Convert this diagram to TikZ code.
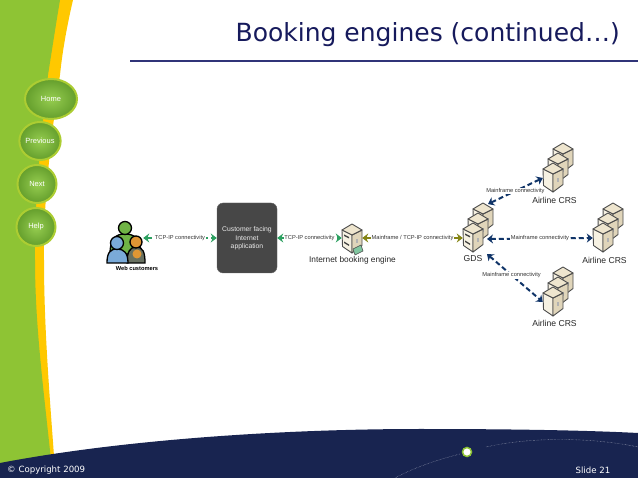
\documentclass[tikz,border=0pt]{standalone}
\usepackage{fontspec}
\setmainfont{Liberation Sans}
\newfontfamily\slidefont{DejaVu Sans}
\usetikzlibrary{shapes.geometric,arrows.meta}

\definecolor{leaf}{RGB}{142,196,52}
\definecolor{sun}{RGB}{255,200,0}
\definecolor{deepnavy}{RGB}{24,36,80}
\definecolor{titleblue}{RGB}{22,26,92}
\definecolor{ruleblue}{RGB}{48,52,120}
\definecolor{linkgreen}{RGB}{44,160,96}
\definecolor{linkolive}{RGB}{132,132,20}
\definecolor{linknavy}{RGB}{16,52,104}
\definecolor{srvlight}{RGB}{246,241,226}
\definecolor{srvmid}{RGB}{238,229,206}
\definecolor{srvdark}{RGB}{224,213,186}
\definecolor{btnring}{RGB}{172,205,50}
\definecolor{btnin}{RGB}{150,205,80}
\definecolor{btnout}{RGB}{100,158,44}
\definecolor{headblue}{RGB}{122,170,216}
\definecolor{headgreen}{RGB}{112,180,70}
\definecolor{headorange}{RGB}{224,150,52}
\definecolor{bodygrey}{RGB}{104,112,96}

\tikzset{
  pics/srvbox/.style={code={
    \draw[draw=black!70,line width=.9pt,fill=srvlight,line join=round]
      (-10,-9) -- (0,-4) -- (0,14) -- (-9.5,7.5) -- cycle;
    \draw[draw=black!70,line width=.9pt,fill=srvdark,line join=round]
      (0,-4) -- (10,-9) -- (10,6.5) -- (0,14) -- cycle;
    \draw[draw=black!70,line width=.9pt,fill=srvmid,line join=round]
      (-10,-9) -- (0,-15) -- (10,-9) -- (0,-4) -- cycle;
    \fill[black!30] (4,0) rectangle (5.5,4);
  }},
  pics/srvslots/.style={code={
    \fill[black!75] (-8,-4.5) -- (-3,-2) -- (-3,-.5) -- (-8,-3) -- cycle;
    \fill[black!75] (-8,2.5) -- (-3,5.5) -- (-3,7) -- (-8,4) -- cycle;
  }},
  pics/srvstack/.style={code={
    \pic at (10,-20) {srvbox};
    \pic at (5,-10) {srvbox};
    \pic at (0,0) {srvbox};
  }}
}

\begin{document}
\begin{tikzpicture}[x=1pt,y=-1pt]
    \tikzstyle{btn}=[ellipse,draw=btnring,line width=2pt,inner color=btnin,outer color=btnout,text=white,font=\fontsize{7.5}{9}\selectfont,inner sep=0pt]
    \tikzstyle{srv}=[minimum width=20pt,minimum height=30pt,inner sep=0pt]
    \tikzstyle{conn}=[font=\fontsize{5.7}{7}\selectfont,fill=white,inner sep=.8pt,text=black!80]
    \tikzstyle{link}=[line width=2pt,dash pattern=on 5pt off 3pt,{Stealth[length=6pt,width=9pt]}-{Stealth[length=6pt,width=9pt]}]
    \tikzstyle{srvcap}=[font=\fontsize{8.6}{10}\selectfont,text=black!85,inner sep=0pt]
    \tikzstyle{person}=[draw=black,line width=1.3pt]

    \path[use as bounding box] (0,0) rectangle (638,478);

    % left band
    \fill[sun] (0,0) -- (73,0) .. controls (66,30) and (62,55) .. (60,75)
        .. controls (52,130) and (43,200) .. (44,260)
        .. controls (44,330) and (50,400) .. (54,456) -- (52,478) -- (0,478) -- cycle;
    \fill[leaf] (0,0) -- (60,0) .. controls (55,30) and (52,50) .. (48,75)
        .. controls (42,130) and (34,200) .. (35,260)
        .. controls (35,330) and (45,400) .. (52,470) -- (0,478) -- cycle;

    % footer
    \fill[deepnavy] (0,463) .. controls (120,440) and (280,429) .. (420,429)
        .. controls (500,429) and (580,430) .. (638,433) -- (638,478) -- (0,478) -- cycle;
    \draw[white!70!deepnavy,densely dotted,line width=.4pt] (395,478) .. controls (415,467) and (440,459) .. (460,454);
    \draw[white!70!deepnavy,densely dotted,line width=.4pt] (486,447) .. controls (530,437) and (590,437) .. (638,447);
    \node[circle,draw=leaf,line width=1.5pt,fill=white,minimum size=9pt,inner sep=0pt] (ring) at (467,452) {};
    \node[font=\slidefont\fontsize{8.6}{10}\selectfont,text=white,anchor=west,inner sep=0pt] (copy) at (7,470) {© Copyright 2009};
    \node[font=\slidefont\fontsize{8.6}{10}\selectfont,text=white,anchor=east,inner sep=0pt] (slideno) at (610.5,470) {Slide 21};

    % title
    \node[font=\slidefont\fontsize{25}{29}\selectfont,text=titleblue,anchor=base east,inner sep=0pt] (title) at (620,42) {Booking engines (continued…)};
    \draw[ruleblue,line width=1.3pt] (130,61) -- (638,61);

    % buttons
    \foreach \name/\txt/\x/\y/\w/\h in {home/Home/51/99/52/40, prev/Previous/40/141/40/38, next/Next/37/184/39/38, help/Help/36/227/39/38} {
        \node[btn,minimum width=\w pt,minimum height=\h pt] (\name) at (\x,\y) {\txt};
    };

    % web customers
    \node[minimum width=32pt,minimum height=38pt,inner sep=0pt] (web) at (127,238) {};
    \draw[person,fill=headgreen] (110,254) .. controls (110,238) and (116,234) .. (125,234) .. controls (134,234) and (141,238) .. (141,254) -- cycle;
    \draw[person,fill=headgreen] (125,228) circle (6.5);
    \draw[person,fill=bodygrey] (127,263) .. controls (127,252) and (130,247) .. (136,247) .. controls (143,247) and (145,252) .. (145,263) -- cycle;
    \fill[headorange] (137,254) circle (4.5);
    \draw[person,fill=headorange] (136,242) circle (6);
    \draw[person,fill=headblue] (107,263) .. controls (107,253) and (110,249) .. (117,249) .. controls (124,249) and (128,253) .. (128,263) -- cycle;
    \draw[person,fill=headblue] (117,243) circle (6.5);
    \node[font=\bfseries\fontsize{5.7}{7}\selectfont,inner sep=0pt] (weblabel) at (137,268) {Web customers};

    % application box
    \node[draw=black!60,fill=black!72,rounded corners=6pt,minimum width=60pt,minimum height=70pt,inner sep=0pt] (app) at (247,238) {};
    \node[text=black!8,font=\fontsize{6.8}{8.6}\selectfont,align=center,inner sep=0pt] (apptext) at (247,238.5) {Customer facing\\Internet\\application};

    % servers
    \node[srv] (ibe) at (352,238) {};
    \pic at (352,239) {srvbox};
    \pic at (352,239) {srvslots};
    \fill[linkgreen!60!white,draw=black!70,line width=.5pt] (353,249) -- (361,245) -- (363,251) -- (355,255) -- cycle;
    \node[srvcap,font=\fontsize{8.3}{10}\selectfont] (ibelabel) at (352.5,260) {Internet booking engine};

    \node[srv] (gds) at (473,238) {};
    \pic at (473,238) {srvstack};
    \pic at (473,238) {srvslots};
    \node[srvcap] (gdslabel) at (473,259) {GDS};

    \node[srv] (crsa) at (553,178) {};
    \pic at (553,178) {srvstack};
    \node[srvcap] (crsalabel) at (554.5,200) {Airline CRS};

    \node[srv] (crsb) at (603,238) {};
    \pic at (603,238) {srvstack};
    \node[srvcap] (crsblabel) at (604.5,260) {Airline CRS};

    \node[srv] (crsc) at (553,302) {};
    \pic at (553,302) {srvstack};
    \node[srvcap] (crsclabel) at (554.5,323) {Airline CRS};

    \coordinate (gdsa) at (488,204);
    \coordinate (gdsb) at (487,239);
    \coordinate (gdsc) at (487,254);

    % connectors
    \draw[link,linkgreen] (web.east) -- node[conn] (tcpa) {TCP-IP connectivity} (app.west);
    \draw[link,linkgreen] (app.east) -- node[conn] (tcpb) {TCP-IP connectivity} (ibe.west);
    \draw[link,linkolive] (ibe.east) -- node[conn] (mainf) {Mainframe / TCP-IP connectivity} (gds.west);
    \draw[link,linknavy] (gdsa) -- node[conn] (mfa) {Mainframe connectivity} (crsa.west);
    \draw[link,linknavy] (gdsb) -- node[conn] (mfb) {Mainframe connectivity} (crsb.west);
    \draw[link,linknavy] (gdsc) -- node[conn,pos=.44] (mfc) {Mainframe connectivity} (crsc.west);
\end{tikzpicture}
\end{document}
